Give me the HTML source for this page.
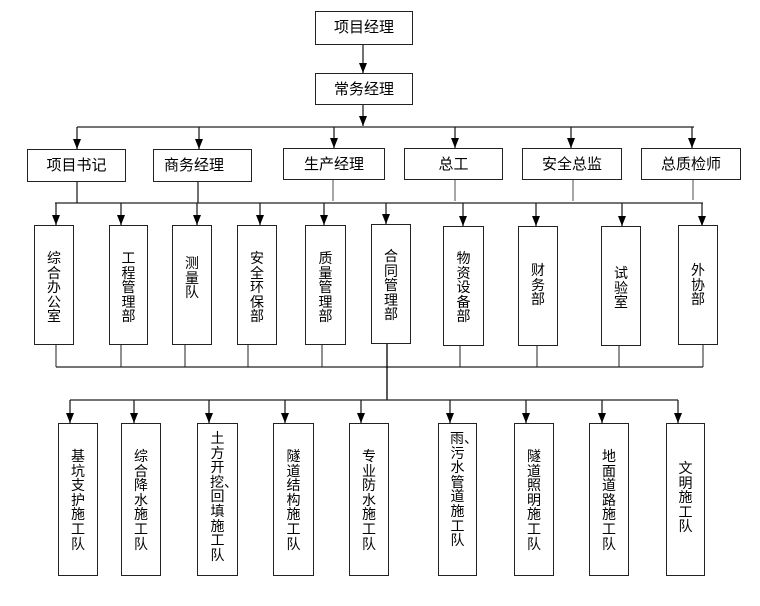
<!DOCTYPE html>
<html><head><meta charset="utf-8"><style>
body{margin:0;background:#fff;width:760px;height:606px;position:relative;overflow:hidden;font-family:"Liberation Sans","Noto Sans CJK SC",sans-serif;color:#000}
.b{position:absolute;border:1px solid #222;box-sizing:border-box;background:#fff}
.h{font-size:15px;text-align:center;line-height:31px}
.v{font-size:14px;line-height:14.6px;text-align:center}
.v span{display:block;width:15px;margin:0 auto;word-break:break-all}
svg{position:absolute;left:0;top:0}
</style></head><body>
<svg width="760" height="606" viewBox="0 0 760 606">
<defs><marker id="a" markerWidth="10" markerHeight="8" refX="10" refY="4" orient="auto" markerUnits="userSpaceOnUse"><path d="M0,0 L10,4 L0,8 z" fill="#000"/></marker></defs>
<g stroke="#222" stroke-width="1.3" fill="none">
<line x1="363" y1="45" x2="363" y2="73" marker-end="url(#a)"/>
<line x1="363" y1="105" x2="363" y2="126" marker-end="url(#a)"/>
<line x1="77" y1="127" x2="694" y2="127"/>
<line x1="77" y1="127" x2="77" y2="149" marker-end="url(#a)"/>
<line x1="199" y1="127" x2="199" y2="149" marker-end="url(#a)"/>
<line x1="334" y1="127" x2="334" y2="148" marker-end="url(#a)"/>
<line x1="455" y1="127" x2="455" y2="148" marker-end="url(#a)"/>
<line x1="571" y1="127" x2="571" y2="148" marker-end="url(#a)"/>
<line x1="692" y1="127" x2="692" y2="148" marker-end="url(#a)"/>
<line x1="77" y1="182" x2="77" y2="203"/>
<line x1="198" y1="182" x2="198" y2="203"/>
<line x1="333" y1="180" x2="333" y2="201" stroke="#777"/>
<line x1="455" y1="180" x2="455" y2="201" stroke="#777"/>
<line x1="573" y1="180" x2="573" y2="201" stroke="#777"/>
<line x1="693" y1="180" x2="693" y2="200" stroke="#777"/>
<line x1="55" y1="203" x2="703" y2="203"/>
<line x1="56" y1="203" x2="56" y2="225" marker-end="url(#a)"/>
<line x1="121" y1="203" x2="121" y2="225" marker-end="url(#a)"/>
<line x1="197" y1="203" x2="197" y2="225" marker-end="url(#a)"/>
<line x1="260" y1="203" x2="260" y2="225" marker-end="url(#a)"/>
<line x1="324" y1="203" x2="324" y2="225" marker-end="url(#a)"/>
<line x1="386" y1="203" x2="386" y2="224" marker-end="url(#a)"/>
<line x1="463" y1="203" x2="463" y2="226" marker-end="url(#a)"/>
<line x1="536" y1="203" x2="536" y2="226" marker-end="url(#a)"/>
<line x1="622" y1="203" x2="622" y2="226" marker-end="url(#a)"/>
<line x1="702" y1="203" x2="702" y2="226" marker-end="url(#a)"/>
<g stroke="#555"><line x1="56" y1="345" x2="56" y2="367"/><line x1="121" y1="345" x2="121" y2="367"/><line x1="185" y1="345" x2="185" y2="367"/><line x1="248" y1="345" x2="248" y2="367"/><line x1="322" y1="345" x2="322" y2="367"/><line x1="460" y1="346" x2="460" y2="367"/><line x1="537" y1="346" x2="537" y2="367"/><line x1="619" y1="346" x2="619" y2="367"/><line x1="703" y1="345" x2="703" y2="367"/></g>
<line x1="56" y1="367" x2="703" y2="367"/>
<line x1="387" y1="344" x2="387" y2="400" stroke="#000"/>
<line x1="70" y1="400" x2="678" y2="400"/>
<line x1="70" y1="400" x2="70" y2="423" marker-end="url(#a)"/>
<line x1="134" y1="400" x2="134" y2="423" marker-end="url(#a)"/>
<line x1="209" y1="400" x2="209" y2="423" marker-end="url(#a)"/>
<line x1="285" y1="400" x2="285" y2="423" marker-end="url(#a)"/>
<line x1="361" y1="400" x2="361" y2="423" marker-end="url(#a)"/>
<line x1="450" y1="400" x2="450" y2="423" marker-end="url(#a)"/>
<line x1="526" y1="400" x2="526" y2="423" marker-end="url(#a)"/>
<line x1="602" y1="400" x2="602" y2="423" marker-end="url(#a)"/>
<line x1="678" y1="400" x2="678" y2="423" marker-end="url(#a)"/>
</g></svg>

<div class="b h" style="left:315px;top:11px;width:98px;height:34px">项目经理</div>
<div class="b h" style="left:315px;top:73px;width:98px;height:32px">常务经理</div>

<div class="b h" style="left:27px;top:149px;width:99px;height:33px">项目书记</div>
<div class="b h" style="left:153px;top:149px;width:99px;height:33px;text-align:left;padding-left:10px">商务经理</div>
<div class="b h" style="left:283px;top:148px;width:102px;height:32px">生产经理</div>
<div class="b h" style="left:404px;top:148px;width:99px;height:32px">总工</div>
<div class="b h" style="left:522px;top:148px;width:100px;height:32px">安全总监</div>
<div class="b h" style="left:641px;top:148px;width:100px;height:32px">总质检师</div>

<div class="b v" style="left:34px;top:225px;width:40px;height:120px;padding-top:25px"><span>综合办公室</span></div>
<div class="b v" style="left:109px;top:225px;width:39px;height:120px;padding-top:25px"><span>工程管理部</span></div>
<div class="b v" style="left:172px;top:225px;width:40px;height:120px;padding-top:30px"><span>测量队</span></div>
<div class="b v" style="left:237px;top:225px;width:40px;height:120px;padding-top:25px"><span>安全环保部</span></div>
<div class="b v" style="left:305px;top:225px;width:41px;height:120px;padding-top:25px"><span>质量管理部</span></div>
<div class="b v" style="left:371px;top:224px;width:40px;height:120px;padding-top:24px"><span>合同管理部</span></div>
<div class="b v" style="left:443px;top:226px;width:41px;height:120px;padding-top:24px"><span>物资设备部</span></div>
<div class="b v" style="left:518px;top:226px;width:40px;height:120px;padding-top:36px"><span>财务部</span></div>
<div class="b v" style="left:601px;top:226px;width:40px;height:120px;padding-top:39px"><span>试验室</span></div>
<div class="b v" style="left:678px;top:225px;width:40px;height:120px;padding-top:37px"><span>外协部</span></div>

<div class="b v" style="left:58px;top:423px;width:40px;height:153px;padding-top:25px"><span>基坑支护施工队</span></div>
<div class="b v" style="left:121px;top:423px;width:40px;height:153px;padding-top:25px"><span>综合降水施工队</span></div>
<div class="b v" style="left:197px;top:423px;width:41px;height:153px;padding-top:7px"><span>土方开挖、回填施工队</span></div>
<div class="b v" style="left:273px;top:423px;width:41px;height:153px;padding-top:25px"><span>隧道结构施工队</span></div>
<div class="b v" style="left:349px;top:423px;width:40px;height:153px;padding-top:25px"><span>专业防水施工队</span></div>
<div class="b v" style="left:438px;top:423px;width:39px;height:153px;padding-top:7px"><span>雨、污水管道施工队</span></div>
<div class="b v" style="left:514px;top:423px;width:40px;height:153px;padding-top:25px"><span>隧道照明施工队</span></div>
<div class="b v" style="left:589px;top:423px;width:40px;height:153px;padding-top:25px"><span>地面道路施工队</span></div>
<div class="b v" style="left:666px;top:423px;width:39px;height:153px;padding-top:37px"><span>文明施工队</span></div>
</body></html>
